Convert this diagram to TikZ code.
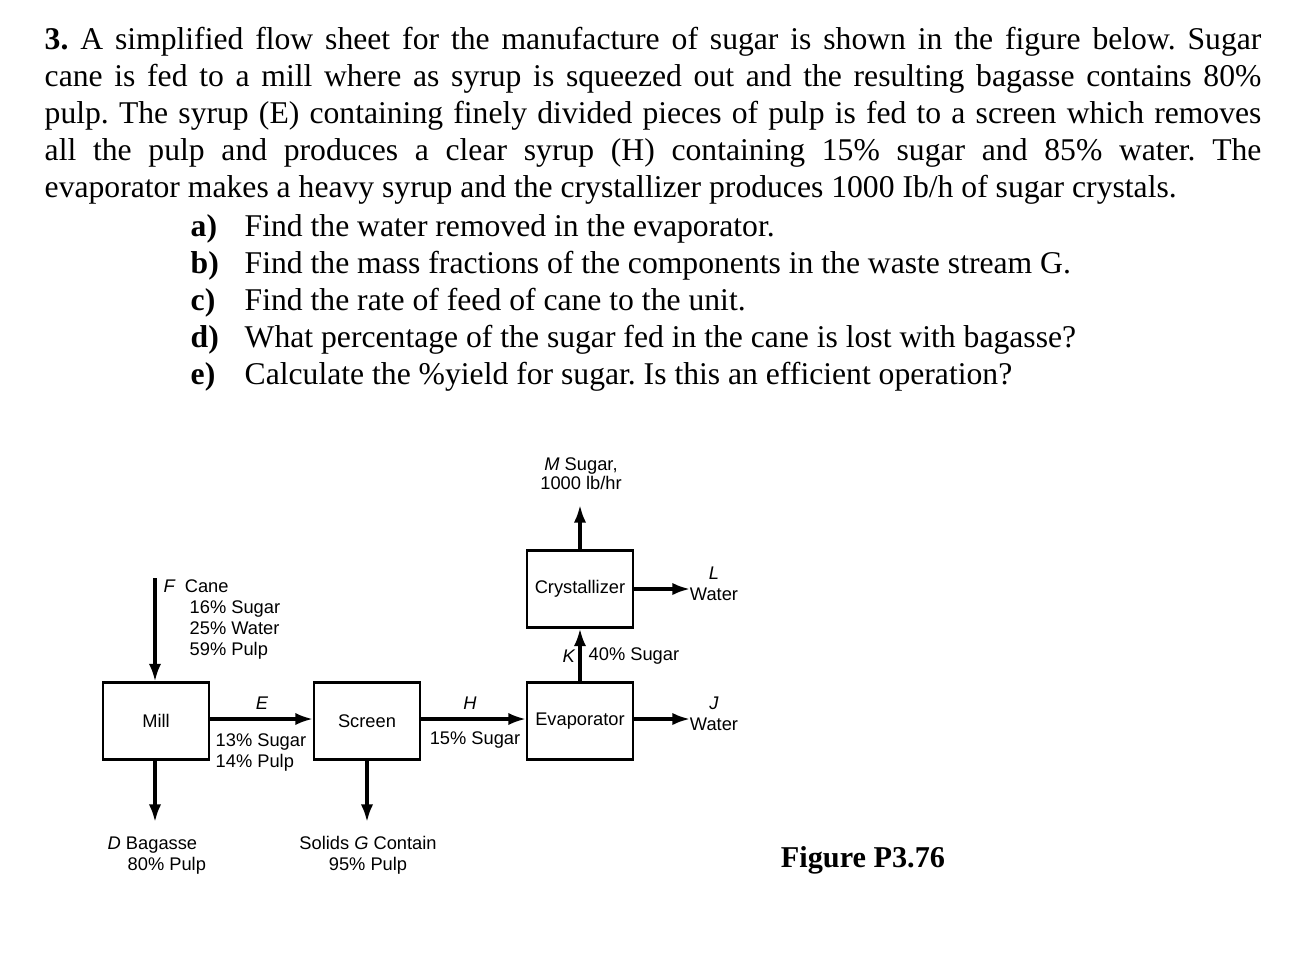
\documentclass[tikz,border=0pt]{standalone}
\usepackage{fontspec}
\setmainfont{Liberation Serif}
\newfontfamily\dia{Liberation Sans}
\usetikzlibrary{arrows.meta}
\begin{document}
\frenchspacing
\begin{tikzpicture}[x=0.01cm,y=-0.01cm,
  unit/.style={draw,line width=0.6pt,minimum width=1.06cm,minimum height=0.77cm,inner sep=0pt,font=\dia\fontsize{5.2}{6}\selectfont},
  lab/.style={font=\dia\fontsize{5.2}{6}\selectfont,inner sep=0pt},
  flow/.style={line width=0.9pt,-{Latex[length=5pt,width=3.5pt]}},
  q/.style={inner sep=0pt,anchor=base west,font=\fontsize{9}{10.5}\selectfont}]
\useasboundingbox (0,0) rectangle (1308,960);
\node[inner sep=0pt,anchor=north west,text width=12.16cm,align=justify,font=\fontsize{9}{10.5}\selectfont] (para) at (44,27)
{\textbf{3.} A simplified flow sheet for the manufacture of sugar is shown in the figure below. Sugar\linebreak
cane is fed to a mill where as syrup is squeezed out and the resulting bagasse contains 80\%\linebreak
pulp. The syrup (E) containing finely divided pieces of pulp is fed to a screen which removes\linebreak
all the pulp and produces a clear syrup (H) containing 15\% sugar and 85\% water. The\linebreak
evaporator makes a heavy syrup and the crystallizer produces 1000 Ib/h of sugar crystals.\hfill\null};
\foreach \l/\t/\y in {a/Find the water removed in the evaporator./236,
  b/Find the mass fractions of the components in the waste stream G./273,
  c/Find the rate of feed of cane to the unit./310,
  d/What percentage of the sugar fed in the cane is lost with bagasse?/347,
  e/Calculate the \%yield for sugar. Is this an efficient operation?/384}{
  \node[q] (l\l) at (190,\y) {\textbf{\l)}};
  \node[q] (t\l) at (244,\y) {\t};
}
\node[unit] (mill) at (156,721) {Mill};
\node[unit] (screen) at (367,721) {Screen};
\node[unit] (evap) at (580,721) {Evaporator};
\node[unit] (cryst) at (580,589) {Crystallizer};
\coordinate (Fin) at (155,578);
\coordinate (Dout) at (155,822);
\coordinate (Gout) at (367,822);
\coordinate (Mout) at (580,505);
\coordinate (Lout) at (690,589);
\coordinate (Jout) at (690,719);
\draw[flow] (Fin) -- (Fin |- mill.north);
\draw[flow] (Fin |- mill.south) -- (Dout);
\draw[flow] (mill.east |- 0,719) -- (screen.west |- 0,719);
\draw[flow] (screen.east |- 0,719) -- (evap.west |- 0,719);
\draw[flow] (screen.south) -- (Gout);
\draw[flow] (evap.north) -- (cryst.south);
\draw[flow] (cryst.north) -- (Mout);
\draw[flow] (cryst.east) -- (Lout);
\draw[flow] (evap.east |- 0,719) -- (Jout);
\node[lab] (Mlab) at (581,476) {\begin{tabular}{@{}c@{}}\textit{M} Sugar,\\[-0.5pt]1000 lb/hr\end{tabular}};
\node[lab] (Llab) at (714,586) {\begin{tabular}{@{}c@{}}\textit{L}\\[0pt]Water\end{tabular}};
\node[lab] (Jlab) at (714,716) {\begin{tabular}{@{}c@{}}\textit{J}\\[0pt]Water\end{tabular}};
\node[lab] (K) at (569,656) {\textit{K}};
\node[lab,anchor=west] (Klab) at (588,656) {40\% Sugar};
\node[lab] (H) at (470,703) {\textit{H}};
\node[lab] (Hlab) at (475,740) {15\% Sugar};
\node[lab] (E) at (262,703) {\textit{E}};
\node[lab,anchor=north west] (Elab) at (215,731) {\begin{tabular}{@{}l@{}}13\% Sugar\\[0pt]14\% Pulp\end{tabular}};
\node[lab,anchor=north west] (Flab) at (163,577) {\begin{tabular}{@{}l@{}}\textit{F}\enspace Cane\\[0pt]\hspace{2.6mm}16\% Sugar\\[0pt]\hspace{2.6mm}25\% Water\\[0pt]\hspace{2.6mm}59\% Pulp\end{tabular}};
\node[lab,anchor=north west] (Dlab) at (107,834) {\begin{tabular}{@{}l@{}}\textit{D} Bagasse\\[0pt]\hspace{2mm}80\% Pulp\end{tabular}};
\node[lab,anchor=north] (Glab) at (368,834) {\begin{tabular}{@{}c@{}}Solids \textit{G} Contain\\[0pt]95\% Pulp\end{tabular}};
\node[inner sep=0pt,font=\bfseries\fontsize{8.6}{10}\selectfont] (fig) at (863,860) {Figure P3.76};
\end{tikzpicture}
\end{document}
